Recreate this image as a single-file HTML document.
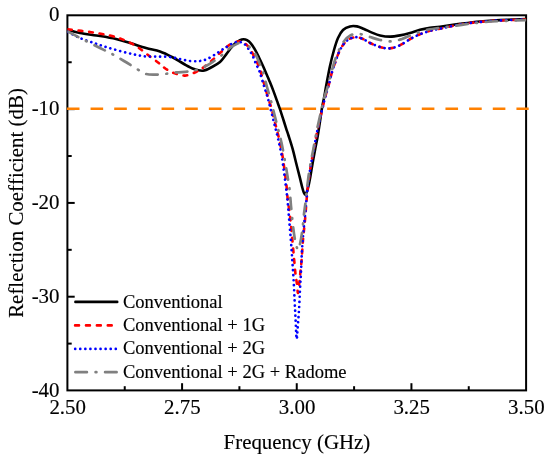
<!DOCTYPE html>
<html><head><meta charset="utf-8"><title>Reflection Coefficient</title>
<style>html,body{margin:0;padding:0;background:#fff}text{font-variant-ligatures:none;font-kerning:none;stroke:#000;stroke-width:0.15px}body{width:550px;height:460px;overflow:hidden}</style></head>
<body>
<svg width="550" height="460" viewBox="0 0 550 460" style="display:block">
<rect width="550" height="460" fill="#fff"/>
<defs><filter id="soft" x="-2%" y="-2%" width="104%" height="104%"><feGaussianBlur stdDeviation="0.32"/></filter><clipPath id="cp"><rect x="67.4" y="15.3" width="458.7" height="375.1"/></clipPath></defs>
<g filter="url(#soft)">
<g stroke="#000" stroke-width="2">
<line x1="124.74" y1="390.5" x2="124.74" y2="386.2"/>
<line x1="182.08" y1="390.5" x2="182.08" y2="383.2"/>
<line x1="239.41" y1="390.5" x2="239.41" y2="386.2"/>
<line x1="296.75" y1="390.5" x2="296.75" y2="383.2"/>
<line x1="354.09" y1="390.5" x2="354.09" y2="386.2"/>
<line x1="411.43" y1="390.5" x2="411.43" y2="383.2"/>
<line x1="468.76" y1="390.5" x2="468.76" y2="386.2"/>
<line x1="67.4" y1="62.24" x2="71.7" y2="62.24"/>
<line x1="67.4" y1="109.14" x2="74.7" y2="109.14"/>
<line x1="67.4" y1="156.03" x2="71.7" y2="156.03"/>
<line x1="67.4" y1="202.92" x2="74.7" y2="202.92"/>
<line x1="67.4" y1="249.82" x2="71.7" y2="249.82"/>
<line x1="67.4" y1="296.71" x2="74.7" y2="296.71"/>
<line x1="67.4" y1="343.61" x2="71.7" y2="343.61"/>
</g>
<rect x="67.4" y="15.3" width="458.7" height="375.1" fill="none" stroke="#000" stroke-width="2"/>
<line x1="66.9" y1="108.75" x2="528.7" y2="108.75" stroke="#ff8000" stroke-width="2.7" stroke-dasharray="12.6 11.06"/>
<g clip-path="url(#cp)" fill="none" stroke-linejoin="round" stroke-linecap="round">
<path d="M68.00,30.00 C70.00,30.50 74.67,32.00 80.00,33.00 C85.33,34.00 94.00,35.00 100.00,36.00 C106.00,37.00 111.00,37.83 116.00,39.00 C121.00,40.17 125.00,41.50 130.00,43.00 C135.00,44.50 141.00,46.58 146.00,48.00 C151.00,49.42 155.67,50.00 160.00,51.50 C164.33,53.00 168.00,54.92 172.00,57.00 C176.00,59.08 180.33,62.00 184.00,64.00 C187.67,66.00 190.83,67.88 194.00,69.00 C197.17,70.12 200.00,71.03 203.00,70.70 C206.00,70.37 209.17,68.45 212.00,67.00 C214.83,65.55 217.83,63.83 220.00,62.00 C222.17,60.17 223.33,58.12 225.00,56.00 C226.67,53.88 228.33,51.38 230.00,49.30 C231.67,47.22 233.33,45.02 235.00,43.50 C236.67,41.98 238.58,40.90 240.00,40.20 C241.42,39.50 242.33,39.30 243.50,39.30 C244.67,39.30 245.75,39.48 247.00,40.20 C248.25,40.92 249.67,42.03 251.00,43.60 C252.33,45.17 253.67,47.28 255.00,49.60 C256.33,51.92 257.67,54.77 259.00,57.50 C260.33,60.23 261.67,63.05 263.00,66.00 C264.33,68.95 265.97,72.80 267.00,75.20 C268.03,77.60 268.17,77.87 269.20,80.40 C270.23,82.93 271.90,86.98 273.20,90.40 C274.50,93.82 275.93,97.95 277.00,100.90 C278.07,103.85 278.63,105.27 279.60,108.10 C280.57,110.93 281.72,114.53 282.80,117.90 C283.88,121.27 285.15,125.37 286.10,128.30 C287.05,131.23 287.40,132.03 288.50,135.50 C289.60,138.97 291.42,144.48 292.70,149.10 C293.98,153.72 295.02,158.48 296.20,163.20 C297.38,167.92 298.77,173.27 299.80,177.40 C300.83,181.53 301.72,185.43 302.40,188.00 C303.08,190.57 303.43,191.70 303.90,192.80 C304.37,193.90 304.77,194.60 305.20,194.60 C305.63,194.60 306.03,193.90 306.50,192.80 C306.97,191.70 307.38,190.57 308.00,188.00 C308.62,185.43 309.43,181.53 310.20,177.40 C310.97,173.27 311.77,167.92 312.60,163.20 C313.43,158.48 314.40,153.33 315.20,149.10 C316.00,144.87 316.67,141.98 317.40,137.80 C318.13,133.62 318.83,128.97 319.60,124.00 C320.37,119.03 321.23,112.50 322.00,108.00 C322.77,103.50 323.45,101.00 324.20,97.00 C324.95,93.00 325.53,89.17 326.50,84.00 C327.47,78.83 328.75,71.67 330.00,66.00 C331.25,60.33 332.67,54.67 334.00,50.00 C335.33,45.33 336.50,41.33 338.00,38.00 C339.50,34.67 341.00,31.93 343.00,30.00 C345.00,28.07 347.67,27.00 350.00,26.40 C352.33,25.80 354.67,25.97 357.00,26.40 C359.33,26.83 361.50,27.97 364.00,29.00 C366.50,30.03 369.33,31.53 372.00,32.60 C374.67,33.67 377.00,34.73 380.00,35.40 C383.00,36.07 386.67,36.60 390.00,36.60 C393.33,36.60 396.67,36.00 400.00,35.40 C403.33,34.80 406.67,33.92 410.00,33.00 C413.33,32.08 416.67,30.71 420.00,29.85 C423.33,28.99 426.67,28.38 430.00,27.85 C433.33,27.33 435.00,27.36 440.00,26.70 C445.00,26.04 453.33,24.77 460.00,23.90 C466.67,23.03 473.33,22.13 480.00,21.50 C486.67,20.87 492.33,20.50 500.00,20.10 C507.67,19.70 521.67,19.27 526.00,19.10" stroke="#000" stroke-width="2.6"/>
<path d="M68.00,29.40 C71.67,29.83 83.00,30.97 90.00,32.00 C97.00,33.03 104.33,34.27 110.00,35.60 C115.67,36.93 119.67,38.27 124.00,40.00 C128.33,41.73 132.00,43.50 136.00,46.00 C140.00,48.50 144.00,52.00 148.00,55.00 C152.00,58.00 157.00,61.67 160.00,64.00 C163.00,66.33 163.67,67.50 166.00,69.00 C168.33,70.50 170.83,71.90 174.00,73.00 C177.17,74.10 181.33,75.77 185.00,75.60 C188.67,75.43 192.83,73.43 196.00,72.00 C199.17,70.57 201.17,69.08 204.00,67.00 C206.83,64.92 210.00,62.13 213.00,59.50 C216.00,56.87 219.17,53.70 222.00,51.20 C224.83,48.70 227.67,46.03 230.00,44.50 C232.33,42.97 233.92,42.50 236.00,42.00 C238.08,41.50 240.83,41.12 242.50,41.50 C244.17,41.88 244.75,43.13 246.00,44.30 C247.25,45.47 248.50,46.13 250.00,48.50 C251.50,50.87 253.42,55.25 255.00,58.50 C256.58,61.75 257.83,63.25 259.50,68.00 C261.17,72.75 263.55,82.00 265.00,87.00 C266.45,92.00 267.08,94.28 268.20,98.00 C269.32,101.72 270.52,105.02 271.70,109.30 C272.88,113.58 274.10,118.92 275.30,123.70 C276.50,128.48 277.73,132.83 278.90,138.00 C280.07,143.17 281.33,149.13 282.30,154.70 C283.27,160.27 284.00,166.23 284.70,171.40 C285.40,176.57 286.02,181.27 286.50,185.70 C286.98,190.13 287.02,192.95 287.60,198.00 C288.18,203.05 289.27,209.67 290.00,216.00 C290.73,222.33 291.33,229.00 292.00,236.00 C292.67,243.00 293.40,251.50 294.00,258.00 C294.60,264.50 295.10,270.67 295.60,275.00 C296.10,279.33 296.60,281.00 297.00,284.00 C297.40,287.00 297.60,293.33 298.00,293.00 C298.40,292.67 299.00,285.50 299.40,282.00 C299.80,278.50 300.03,275.67 300.40,272.00 C300.77,268.33 301.17,265.33 301.60,260.00 C302.03,254.67 302.43,246.67 303.00,240.00 C303.57,233.33 304.40,226.67 305.00,220.00 C305.60,213.33 306.10,205.72 306.60,200.00 C307.10,194.28 307.33,191.27 308.00,185.70 C308.67,180.13 309.65,172.57 310.60,166.60 C311.55,160.63 312.58,155.87 313.70,149.90 C314.82,143.93 315.98,137.17 317.30,130.80 C318.62,124.43 320.23,117.50 321.60,111.70 C322.97,105.90 324.27,100.62 325.50,96.00 C326.73,91.38 327.92,88.00 329.00,84.00 C330.08,80.00 330.83,76.00 332.00,72.00 C333.17,68.00 334.67,63.67 336.00,60.00 C337.33,56.33 338.58,52.83 340.00,50.00 C341.42,47.17 342.83,44.90 344.50,43.00 C346.17,41.10 348.00,39.57 350.00,38.60 C352.00,37.63 354.33,37.13 356.50,37.20 C358.67,37.27 360.75,38.03 363.00,39.00 C365.25,39.97 367.17,41.67 370.00,43.00 C372.83,44.33 377.00,46.10 380.00,47.00 C383.00,47.90 385.33,48.40 388.00,48.40 C390.67,48.40 393.33,47.90 396.00,47.00 C398.67,46.10 401.33,44.50 404.00,43.00 C406.67,41.50 409.33,39.46 412.00,38.00 C414.67,36.54 417.00,35.44 420.00,34.25 C423.00,33.06 426.67,31.78 430.00,30.85 C433.33,29.93 435.00,29.76 440.00,28.70 C445.00,27.64 453.33,25.63 460.00,24.50 C466.67,23.37 473.33,22.57 480.00,21.90 C486.67,21.23 492.33,20.90 500.00,20.50 C507.67,20.10 521.67,19.67 526.00,19.50" stroke="#ff0000" stroke-width="2.6" stroke-dasharray="3.8 6.8"/>
<path d="M68.00,32.00 C70.00,33.00 75.67,36.17 80.00,38.00 C84.33,39.83 89.67,41.50 94.00,43.00 C98.33,44.50 101.67,45.67 106.00,47.00 C110.33,48.33 115.33,49.77 120.00,51.00 C124.67,52.23 129.67,53.50 134.00,54.40 C138.33,55.30 141.67,56.03 146.00,56.40 C150.33,56.77 156.00,56.50 160.00,56.60 C164.00,56.70 166.67,56.60 170.00,57.00 C173.33,57.40 176.67,58.33 180.00,59.00 C183.33,59.67 186.67,60.67 190.00,61.00 C193.33,61.33 197.00,61.40 200.00,61.00 C203.00,60.60 205.00,60.02 208.00,58.60 C211.00,57.18 215.00,54.38 218.00,52.50 C221.00,50.62 223.33,48.92 226.00,47.30 C228.67,45.68 231.75,43.68 234.00,42.80 C236.25,41.92 237.83,41.85 239.50,42.00 C241.17,42.15 242.67,42.78 244.00,43.70 C245.33,44.62 246.42,46.12 247.50,47.50 C248.58,48.88 249.58,50.50 250.50,52.00 C251.42,53.50 252.25,54.92 253.00,56.50 C253.75,58.08 254.33,59.92 255.00,61.50 C255.67,63.08 256.33,64.58 257.00,66.00 C257.67,67.42 258.42,68.58 259.00,70.00 C259.58,71.42 259.67,71.83 260.50,74.50 C261.33,77.17 262.88,82.42 264.00,86.00 C265.12,89.58 266.08,92.12 267.20,96.00 C268.32,99.88 269.52,104.68 270.70,109.30 C271.88,113.92 273.10,118.92 274.30,123.70 C275.50,128.48 276.70,132.83 277.90,138.00 C279.10,143.17 280.50,149.13 281.50,154.70 C282.50,160.27 283.18,166.23 283.90,171.40 C284.62,176.57 285.20,180.93 285.80,185.70 C286.40,190.47 286.93,194.28 287.50,200.00 C288.07,205.72 288.62,213.00 289.20,220.00 C289.78,227.00 290.47,235.00 291.00,242.00 C291.53,249.00 291.97,255.67 292.40,262.00 C292.83,268.33 293.23,273.67 293.60,280.00 C293.97,286.33 294.27,293.33 294.60,300.00 C294.93,306.67 295.27,313.50 295.60,320.00 C295.93,326.50 296.28,337.33 296.60,339.00 C296.92,340.67 297.10,334.83 297.50,330.00 C297.90,325.17 298.58,316.67 299.00,310.00 C299.42,303.33 299.67,296.33 300.00,290.00 C300.33,283.67 300.67,278.67 301.00,272.00 C301.33,265.33 301.57,257.00 302.00,250.00 C302.43,243.00 303.00,236.67 303.60,230.00 C304.20,223.33 305.13,215.00 305.60,210.00 C306.07,205.00 306.03,204.05 306.40,200.00 C306.77,195.95 307.10,191.27 307.80,185.70 C308.50,180.13 309.62,172.57 310.60,166.60 C311.58,160.63 312.58,155.87 313.70,149.90 C314.82,143.93 315.98,137.17 317.30,130.80 C318.62,124.43 320.23,117.50 321.60,111.70 C322.97,105.90 324.27,100.62 325.50,96.00 C326.73,91.38 327.92,88.00 329.00,84.00 C330.08,80.00 330.83,76.00 332.00,72.00 C333.17,68.00 334.67,63.67 336.00,60.00 C337.33,56.33 338.58,52.83 340.00,50.00 C341.42,47.17 342.83,44.90 344.50,43.00 C346.17,41.10 348.00,39.57 350.00,38.60 C352.00,37.63 354.33,37.13 356.50,37.20 C358.67,37.27 360.75,38.03 363.00,39.00 C365.25,39.97 367.17,41.67 370.00,43.00 C372.83,44.33 377.00,46.10 380.00,47.00 C383.00,47.90 385.33,48.40 388.00,48.40 C390.67,48.40 393.33,47.90 396.00,47.00 C398.67,46.10 401.33,44.50 404.00,43.00 C406.67,41.50 409.33,39.46 412.00,38.00 C414.67,36.54 417.00,35.44 420.00,34.25 C423.00,33.06 426.67,31.78 430.00,30.85 C433.33,29.93 435.00,29.76 440.00,28.70 C445.00,27.64 453.33,25.63 460.00,24.50 C466.67,23.37 473.33,22.57 480.00,21.90 C486.67,21.23 492.33,20.90 500.00,20.50 C507.67,20.10 521.67,19.67 526.00,19.50" stroke="#0000ff" stroke-width="2.7" stroke-dasharray="0.01 5.05"/>
<path id="g1" d="M68.00,31.60 C70.67,33.00 78.67,37.27 84.00,40.00 C89.33,42.73 95.33,45.67 100.00,48.00 C104.67,50.33 108.00,51.83 112.00,54.00 C116.00,56.17 119.67,58.40 124.00,61.00 C128.33,63.60 134.33,67.43 138.00,69.60 C141.67,71.77 143.00,73.17 146.00,74.00 C149.00,74.83 152.67,74.63 156.00,74.60 C159.33,74.57 162.67,74.17 166.00,73.80 C169.33,73.43 172.33,72.77 176.00,72.40 C179.67,72.03 184.67,72.00 188.00,71.60 C191.33,71.20 193.00,70.93 196.00,70.00 C199.00,69.07 203.00,67.50 206.00,66.00 C209.00,64.50 211.33,62.83 214.00,61.00 C216.67,59.17 219.33,57.17 222.00,55.00 C224.67,52.83 227.33,49.93 230.00,48.00 C232.67,46.07 236.00,44.33 238.00,43.40 C240.00,42.47 240.33,42.00 242.00,42.40" stroke="#808080" stroke-width="2.7" stroke-dasharray="11.5 8.7 0.8 8.7" stroke-dashoffset="0"/>
<path id="g2" d="M242.00,42.40 C243.67,42.80 245.83,43.95 248.00,45.80 C250.17,47.65 253.17,50.80 255.00,53.50 C256.83,56.20 257.67,58.92 259.00,62.00 C260.33,65.08 261.67,67.83 263.00,72.00 C264.33,76.17 265.75,82.50 267.00,87.00 C268.25,91.50 269.48,95.28 270.50,99.00 C271.52,102.72 271.87,104.40 273.10,109.30 C274.33,114.20 276.50,122.82 277.90,128.40 C279.30,133.98 280.30,137.22 281.50,142.80 C282.70,148.38 284.10,156.33 285.10,161.90 C286.10,167.47 286.73,171.43 287.50,176.20 C288.27,180.97 289.12,185.53 289.70,190.50 C290.28,195.47 290.45,200.08 291.00,206.00 C291.55,211.92 292.33,220.33 293.00,226.00 C293.67,231.67 294.33,236.33 295.00,240.00 C295.67,243.67 296.50,246.33 297.00,248.00 C297.50,249.67 297.50,250.67 298.00,250.00 C298.50,249.33 299.27,247.33 300.00,244.00 C300.73,240.67 301.73,235.00 302.40,230.00 C303.07,225.00 303.47,218.67 304.00,214.00 C304.53,209.33 305.05,206.67 305.60,202.00 C306.15,197.33 306.57,191.90 307.30,186.00 C308.03,180.10 309.02,172.62 310.00,166.60 C310.98,160.58 312.07,155.87 313.20,149.90 C314.33,143.93 315.50,137.17 316.80,130.80 C318.10,124.43 319.72,117.33 321.00,111.70 C322.28,106.07 323.45,100.95 324.50,97.00 C325.55,93.05 326.22,91.83 327.30,88.00 C328.38,84.17 329.72,78.67 331.00,74.00 C332.28,69.33 333.50,64.33 335.00,60.00 C336.50,55.67 338.33,51.33 340.00,48.00 C341.67,44.67 343.33,42.07 345.00,40.00 C346.67,37.93 348.33,36.57 350.00,35.60 C351.67,34.63 353.00,34.40 355.00,34.20 C357.00,34.00 359.50,33.93 362.00,34.40 C364.50,34.87 367.00,36.07 370.00,37.00 C373.00,37.93 376.33,39.27 380.00,40.00 C383.67,40.73 388.33,41.57 392.00,41.40 C395.67,41.23 399.00,39.97 402.00,39.00 C405.00,38.03 407.00,36.79 410.00,35.60 C413.00,34.41 416.67,32.91 420.00,31.85 C423.33,30.79 426.67,29.91 430.00,29.25 C433.33,28.59 435.00,28.59 440.00,27.90 C445.00,27.21 453.33,26.00 460.00,25.10 C466.67,24.20 473.33,23.17 480.00,22.50 C486.67,21.83 492.33,21.50 500.00,21.10 C507.67,20.70 521.67,20.27 526.00,20.10" stroke="#808080" stroke-width="2.7" stroke-dasharray="11.5 8.7 0.8 8.7" stroke-dashoffset="11.81"/>
</g>
<g font-family="'Liberation Serif', 'Times New Roman', serif" font-size="20.9" fill="#000">
<text x="67.7" y="414" text-anchor="middle">2.50</text>
<text x="182.4" y="414" text-anchor="middle">2.75</text>
<text x="297.1" y="414" text-anchor="middle">3.00</text>
<text x="411.7" y="414" text-anchor="middle">3.25</text>
<text x="526.4" y="414" text-anchor="middle">3.50</text>
<text x="59.5" y="21.30" text-anchor="end">0</text>
<text x="59.5" y="114.95" text-anchor="end">-10</text>
<text x="59.5" y="209.25" text-anchor="end">-20</text>
<text x="59.5" y="303.15" text-anchor="end">-30</text>
<text x="59.5" y="396.90" text-anchor="end">-40</text>
<text x="296.95" y="448.9" text-anchor="middle">Frequency (GHz)</text>
<text transform="translate(23.3,317.83) rotate(-90)">Reflection Coefficient (dB)</text>
</g>
<g fill="none" stroke-linecap="round">
<line x1="75.4" y1="301.9" x2="117.2" y2="301.9" stroke="#000" stroke-width="2.6"/>
<line x1="75.1" y1="325.4" x2="113" y2="325.4" stroke="#ff0000" stroke-width="2.6" stroke-dasharray="3.9 7"/>
<line x1="75.2" y1="348.9" x2="118" y2="348.9" stroke="#0000ff" stroke-width="2.7" stroke-dasharray="0.01 5.06"/>
<line x1="75.4" y1="372.2" x2="117" y2="372.2" stroke="#808080" stroke-width="2.7" stroke-dasharray="11.5 8.7 0.8 8.7"/>
</g>
<g font-family="'Liberation Serif', 'Times New Roman', serif" font-size="18.55" fill="#000">
<text x="122.9" y="308.00">Conventional</text>
<text x="122.9" y="331.35">Conventional + 1G</text>
<text x="122.9" y="354.30">Conventional + 2G</text>
<text x="122.9" y="377.85">Conventional + 2G + Radome</text>
</g>
</g>
</svg>
</body></html>
